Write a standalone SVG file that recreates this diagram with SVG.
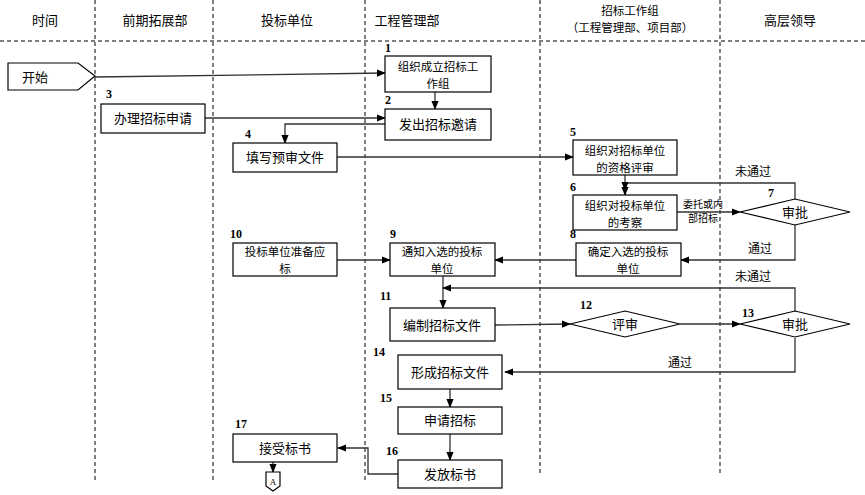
<svg xmlns="http://www.w3.org/2000/svg" width="865" height="495" viewBox="0 0 865 495">
<style>
text{font-family:"Noto Sans CJK SC","Liberation Sans",sans-serif;font-size:13px;fill:#000}
.h{text-anchor:middle;font-size:13px}
.t{text-anchor:middle}
.s{font-size:11.5px}
.l{font-size:12px}
.m{font-size:10px}
.n{font-family:"Liberation Serif",serif;font-weight:bold;font-size:12px}
.b{fill:#fff;stroke:#000;stroke-width:1.2}
.d{stroke:#000;stroke-dasharray:4,3;fill:none}
.c{fill:none;stroke:#333;stroke-width:1.3;marker-end:url(#a)}
</style>
<defs><marker id="a" viewBox="0 0 10 10" refX="9" refY="5" markerWidth="7" markerHeight="7" orient="auto"><path d="M0,1L10,5L0,9z" fill="#000"/></marker></defs>
<rect width="865" height="495" fill="#fff"/>
<g id="lanes">
<line class="d" x1="0" y1="41" x2="865" y2="41"/>
<line class="d" x1="95" y1="0" x2="95" y2="480"/>
<line class="d" x1="213" y1="0" x2="213" y2="480"/>
<line class="d" x1="365" y1="0" x2="365" y2="480"/>
<line class="d" x1="540" y1="0" x2="540" y2="475"/>
<line class="d" x1="720" y1="0" x2="720" y2="475"/>
<text class="h" x="45" y="25">时间</text>
<text class="h" x="155" y="25">前期拓展部</text>
<text class="h" x="287" y="25">投标单位</text>
<text class="h" x="407" y="25">工程管理部</text>
<text class="h s" x="630" y="15">招标工作组</text>
<text class="h s" x="630" y="32">（工程管理部、项目部）</text>
<text class="h" x="790" y="25">高层领导</text>
</g>
<g id="connectors">
<path class="c" d="M95,77L385,73"/>
<path class="c" d="M435,92V109"/>
<path class="c" d="M205,118H385"/>
<path class="c" d="M385,124H285V143"/>
<path class="c" d="M337,157H573"/>
<path class="c" d="M625,175V195"/>
<path class="c" d="M677,212H740"/>
<text class="m" x="683" y="208">委托或内</text><text class="m" x="688" y="222">部招标</text>
<path class="c" d="M795,199V183H625V190"/>
<text class="l" x="735" y="176">未通过</text>
<path class="c" d="M795,225V260H681"/>
<text class="l" x="748" y="253">通过</text>
<path class="c" d="M576,260H495"/>
<path class="c" d="M337,260H390"/>
<path class="c" d="M443,276V308"/>
<path class="c" d="M495,325L570,324"/>
<path class="c" d="M680,324H740"/>
<path class="c" d="M795,312V288H443"/>
<text class="l" x="735" y="281">未通过</text>
<path class="c" d="M795,338V372H505"/>
<text class="l" x="668" y="367">通过</text>
<path class="c" d="M450,389V407"/>
<path class="c" d="M450,434V460"/>
<path class="c" d="M398,474H368V448H338"/>
<path class="c" d="M273,462V472"/>
</g>
<g id="start"><path class="b" d="M8,63H78L95,76L78,90H8z"/><text x="22" y="82">开始</text></g>
<g id="n1"><rect class="b" x="385" y="56" width="106" height="36"/><text class="n" x="385" y="52">1</text><text class="t s" x="438" y="71">组织成立招标工</text><text class="t s" x="438" y="88">作组</text></g>
<g id="n2"><rect class="b" x="385" y="109" width="106" height="31"/><text class="n" x="385" y="104">2</text><text class="t" x="438" y="129">发出招标邀请</text></g>
<g id="n3"><rect class="b" x="101" y="104" width="104" height="29"/><text class="n" x="106" y="98">3</text><text class="t" x="153" y="123">办理招标申请</text></g>
<g id="n4"><rect class="b" x="233" y="143" width="104" height="29"/><text class="n" x="245" y="138">4</text><text class="t" x="285" y="162">填写预审文件</text></g>
<g id="n5"><rect class="b" x="573" y="140" width="104" height="35"/><text class="n" x="570" y="136">5</text><text class="t s" x="625" y="155">组织对招标单位</text><text class="t s" x="625" y="172">的资格评审</text></g>
<g id="n6"><rect class="b" x="573" y="195" width="104" height="35"/><text class="n" x="570" y="191">6</text><text class="t s" x="625" y="210">组织对投标单位</text><text class="t s" x="625" y="227">的考察</text></g>
<g id="n7"><path class="b" d="M740,212L795,199L850,212L795,225z"/><text class="n" x="768" y="197">7</text><text class="t" x="795" y="217">审批</text></g>
<g id="n8"><rect class="b" x="576" y="243" width="105" height="33"/><text class="n" x="570" y="238">8</text><text class="t s" x="628" y="256">确定入选的投标</text><text class="t s" x="628" y="273">单位</text></g>
<g id="n9"><rect class="b" x="390" y="243" width="105" height="33"/><text class="n" x="390" y="238">9</text><text class="t s" x="442" y="256">通知入选的投标</text><text class="t s" x="442" y="273">单位</text></g>
<g id="n10"><rect class="b" x="233" y="243" width="104" height="33"/><text class="n" x="230" y="238">10</text><text class="t s" x="285" y="256">投标单位准备应</text><text class="t s" x="285" y="273">标</text></g>
<g id="n11"><rect class="b" x="390" y="308" width="105" height="33"/><text class="n" x="380" y="300">11</text><text class="t" x="442" y="330">编制招标文件</text></g>
<g id="n12"><path class="b" d="M570,324L625,311L680,324L625,337z"/><text class="n" x="580" y="309">12</text><text class="t" x="625" y="329">评审</text></g>
<g id="n13"><path class="b" d="M740,324L795,311L850,324L795,337z"/><text class="n" x="742" y="317">13</text><text class="t" x="795" y="329">审批</text></g>
<g id="n14"><rect class="b" x="398" y="355" width="104" height="34"/><text class="n" x="373" y="356">14</text><text class="t" x="450" y="377">形成招标文件</text></g>
<g id="n15"><rect class="b" x="398" y="407" width="104" height="27"/><text class="n" x="380" y="402">15</text><text class="t" x="450" y="425">申请招标</text></g>
<g id="n16"><rect class="b" x="398" y="460" width="104" height="28"/><text class="n" x="386" y="455">16</text><text class="t" x="450" y="479">发放标书</text></g>
<g id="n17"><rect class="b" x="233" y="434" width="104" height="28"/><text class="n" x="235" y="428">17</text><text class="t" x="285" y="453">接受标书</text></g>
<g id="A"><path class="b" d="M266,472H280V486L273,491L266,486z"/><text class="t" x="273" y="485" style="font-size:9px;font-family:'Liberation Serif',serif">A</text></g>
</svg>
